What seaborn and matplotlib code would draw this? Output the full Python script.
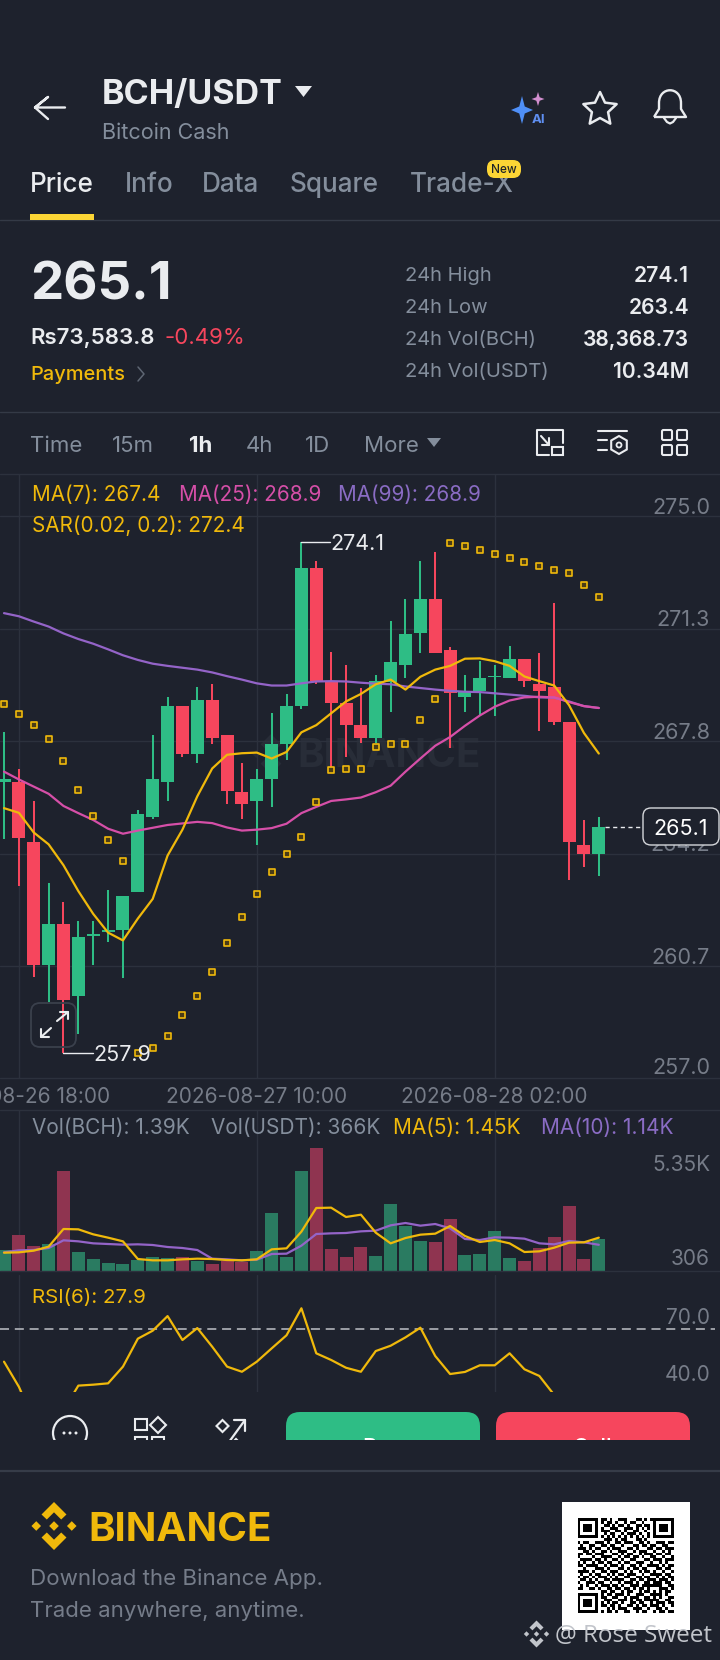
import numpy as np
import pandas as pd
import matplotlib
matplotlib.use('Agg')
import matplotlib.pyplot as plt
from matplotlib.patches import FancyBboxPatch, Polygon, Rectangle, Circle, PathPatch
from matplotlib.path import Path
import seaborn as sns

# Candles, oldest first
opens = [266.50, 266.48, 264.55, 260.63, 261.93, 259.62, 261.55, 261.67, 261.74, 262.97, 265.37,
         266.49, 268.91, 267.40, 269.11, 268.00, 266.17, 265.88, 266.59, 267.70, 268.91, 273.35,
         269.73, 269.02, 268.32, 267.90, 269.69, 270.24, 271.25, 272.34, 270.72, 269.21, 269.39,
         269.85, 269.83, 270.43, 269.62, 269.52, 268.41, 264.46, 264.18]
highs = [268.10, 266.89, 265.88, 263.25, 262.65, 262.03, 262.03, 263.04, 262.84, 265.58, 268.00,
         269.22, 268.91, 269.52, 269.63, 268.00, 267.10, 266.89, 268.71, 269.31, 274.18, 273.57,
         270.66, 270.24, 269.50, 269.92, 271.65, 272.35, 273.56, 273.86, 270.82, 269.93, 270.38,
         270.24, 270.85, 270.43, 270.63, 272.24, 268.41, 265.27, 265.37]
lows = [264.66, 263.15, 260.23, 259.45, 257.80, 258.40, 260.63, 261.35, 260.21, 262.97, 265.30,
        265.88, 267.30, 267.10, 267.70, 265.78, 265.30, 264.48, 265.68, 267.20, 268.82, 269.63,
        266.78, 267.29, 267.74, 267.74, 268.73, 269.82, 270.62, 270.63, 267.58, 268.72, 268.59,
        268.59, 269.83, 269.53, 268.11, 268.31, 263.35, 263.75, 263.46]
closes = [266.58, 264.68, 260.63, 261.93, 259.51, 261.51, 261.60, 261.74, 262.84, 265.46, 266.58,
          268.91, 267.40, 269.11, 267.91, 266.19, 265.78, 266.58, 267.70, 268.91, 273.35, 269.73,
          269.02, 268.32, 267.90, 269.73, 270.33, 271.23, 272.34, 270.63, 269.33, 269.39, 269.81,
          269.89, 270.43, 269.73, 269.42, 268.41, 264.58, 264.18, 265.06]

ma7 = [265.65, 265.50, 264.87, 264.49, 263.82, 262.99, 262.26, 261.66, 261.41, 262.11, 262.74,
       264.13, 264.96, 266.03, 266.92, 267.36, 267.41, 267.43, 267.24, 267.45, 268.08, 268.31,
       268.69, 269.07, 269.31, 269.62, 269.77, 269.45, 269.86, 270.09, 270.21, 270.44, 270.45,
       270.36, 270.21, 269.87, 269.72, 269.58, 268.95, 268.06, 267.40]
ma25 = [266.82, 266.57, 266.34, 266.11, 265.72, 265.49, 265.27, 264.99, 264.83, 264.93, 265.02,
        265.11, 265.16, 265.21, 265.17, 265.03, 264.93, 264.96, 265.01, 265.15, 265.49, 265.69,
        265.88, 265.93, 265.99, 266.16, 266.37, 266.82, 267.24, 267.65, 267.93, 268.29, 268.62,
        268.90, 269.10, 269.20, 269.22, 269.20, 269.05, 268.92, 268.86]
ma99 = [271.90, 271.80, 271.63, 271.47, 271.25, 271.07, 270.92, 270.74, 270.55, 270.40, 270.28,
        270.21, 270.15, 270.09, 270.00, 269.88, 269.77, 269.65, 269.58, 269.58, 269.65, 269.71,
        269.72, 269.71, 269.67, 269.64, 269.62, 269.55, 269.50, 269.45, 269.41, 269.38, 269.37,
        269.33, 269.29, 269.25, 269.20, 269.19, 269.07, 268.92, 268.86]
sar = [269.00, 268.67, 268.33, 267.86, 267.17, 266.22, 265.39, 264.63, 263.94, 257.80, 257.95,
       258.36, 259.02, 259.62, 260.41, 261.33, 262.16, 262.91, 263.59, 264.19, 264.73, 265.86,
       266.86, 266.89, 266.89, 267.60, 267.70, 267.70, 268.48, 269.16, 274.16, 274.04, 273.91,
       273.78, 273.66, 273.54, 273.42, 273.29, 273.18, 272.80, 272.42]

volumes = [913, 1552, 1102, 1160, 4365, 812, 522, 362, 319, 464, 609, 551, 595, 435, 306, 450, 392,
           870, 2538, 609, 4336, 5350, 942, 609, 1044, 638, 2915, 1972, 1305, 1262, 2277, 711, 725,
           1755, 551, 420, 986, 1465, 2828, 537, 1390]
vol_ma5 = [797, 812, 885, 1058, 1827, 1812, 1595, 1450, 1290, 522, 464, 464, 507, 536, 522, 478, 464,
           507, 942, 986, 1711, 2740, 2755, 2349, 2450, 1667, 1203, 1435, 1580, 1624, 1957, 1522,
           1261, 1348, 1203, 826, 855, 1015, 1232, 1247, 1450]
vol_ma10 = [812, 899, 913, 1000, 1334, 1290, 1203, 1174, 1145, 1160, 1131, 1044, 1000, 913, 536, 507,
            464, 493, 739, 754, 1102, 1609, 1638, 1653, 1725, 1754, 1986, 2088, 1972, 2044, 1856,
            1392, 1348, 1464, 1450, 1406, 1203, 1160, 1305, 1247, 1140]
rsi = [52.8, 39.6, 22.1, 24.7, 27.2, 40.2, 40.7, 41.4, 50.2, 64.9, 69.1, 76.8, 64.2, 70.5, 60.7, 50.2,
       47.5, 52.8, 59.8, 66.7, 80.9, 57.2, 53.7, 49.6, 47.5, 58.4, 61.2, 65.6, 70.7, 55.8, 46.3, 47.4,
       50.9, 50.9, 57.2, 48.8, 45.3, 35.3, 17.0, 18.0, 27.9]

price_ticks = [275.0, 271.3, 267.8, 264.2, 260.7, 257.0]
grid_prices = [275.0, 271.39, 267.79, 264.19, 260.59]
date_labels = ['2026-08-26 18:00', '2026-08-27 10:00', '2026-08-28 02:00']
date_idx = [1, 17, 33]

tabs = ['Price', 'Info', 'Data', 'Square', 'Trade-X']
tab_x = [30, 125, 202, 290, 410]
frames = ['Time', '15m', '1h', '4h', '1D', 'More']
frame_x = [30, 112, 189, 246, 305, 364]
stat_labels = ['24h High', '24h Low', '24h Vol(BCH)', '24h Vol(USDT)']
stat_values = ['274.1', '263.4', '38,368.73', '10.34M']
stat_y = [274, 306, 338, 370]

qr_rows = [
    '1111111' + '0110100111000110101' + '1111111',
    '1000001' + '0101101001011001000' + '1000001',
    '1011101' + '0011010110100110110' + '1011101',
    '1011101' + '0100111001110101010' + '1011101',
    '1011101' + '0111001101001100100' + '1011101',
    '1000001' + '0010110010111010010' + '1000001',
    '1111111' + '0101010101010101010' + '1111111',
    '0000000' + '0011101011000110100' + '0000000',
    '101100111010011011100110100111011',
    '010011001101100100011011011001100',
    '111010110010111001101000110110111',
    '001101001101001110010111001001010',
    '110110111000110101100101110110110',
    '100001001111001011011010011001001',
    '011110110100110100110001101110111',
    '101001011011001011001110010010100',
    '110111100101110100110100111101011',
    '001000111010001101011011000110110',
    '111101001101110010100101101001001',
    '010010110010101101110010011110110',
    '101101011101010011001101100101011',
    '011010100110111100110110111011101',
    '100111011001001011101001101110110',
    '010100101110110100111011111110011',
    '110011010011011011010110100011101',
    '0000000' + '0110110010110010110' + '1010110',
    '1111111' + '0101101110100111001' + '1110100',
    '1000001' + '0110011001011100110' + '1010011',
    '1011101' + '0011100111010110111' + '1100110',
    '1011101' + '0101011010011011001' + '0111011',
    '1011101' + '0110110100110101101' + '1101001',
    '1000001' + '0001010111001110010' + '0110100',
    '1111111' + '0101101001100101100' + '1011011',
]

BG = '#1e222d'
GRID = '#2c313d'
GREEN = '#2ebd85'
RED = '#f6465d'
YELLOW = '#f0b90b'
PINK = '#d64fa8'
PURPLE = '#9464c8'
GREY = '#848e9c'
AXIS_GREY = '#767c88'
WHITE = '#eaecef'

sns.set_theme(style='dark', rc={'axes.facecolor': 'none', 'figure.facecolor': BG,
                                'axes.edgecolor': 'none'})
plt.rcParams['font.family'] = ['Inter', 'DejaVu Sans']

fig = plt.figure(figsize=(7.2, 16.6), dpi=100)
W, H = 720.0, 1660.0


def axes_px(x0, y0, x1, y1, z=1):
    # axes from pixel box, y measured from the top of the picture
    return fig.add_axes([x0 / W, 1 - y1 / H, (x1 - x0) / W, (y1 - y0) / H], zorder=z)


def pixel_layer(z):
    layer = axes_px(0, 0, 720, 1660, z=z)
    layer.set_xlim(0, W)
    layer.set_ylim(H, 0)
    layer.axis('off')
    return layer


def txt(x, y, s, size, color=WHITE, ha='left', weight='normal', **kw):
    # y is the visual middle of the capitals
    return ui.text(x, y + 0.5 * size, s, fontsize=size, color=color, ha=ha, va='baseline',
                   fontweight=weight, **kw)


def stroke(xs, ys, color=WHITE, lw=1.6, z=3):
    ui.plot(xs, ys, color=color, lw=lw, solid_capstyle='round', solid_joinstyle='round', zorder=z)


def diamond(cx, cy, r, **kw):
    ui.add_patch(Polygon([(cx, cy - r), (cx + r, cy), (cx, cy + r), (cx - r, cy)], closed=True, **kw))


def binance_logo(cx, cy, r, color):
    diamond(cx, cy, 0.2 * r, fc=color, ec='none')
    diamond(cx - 0.74 * r, cy, 0.2 * r, fc=color, ec='none')
    diamond(cx + 0.74 * r, cy, 0.2 * r, fc=color, ec='none')
    for sgn in (-1, 1):
        pts = [(0, 1), (0.52, 0.48), (0.3, 0.27), (0, 0.57), (-0.3, 0.27), (-0.52, 0.48)]
        ui.add_patch(Polygon([(cx + a * r, cy + sgn * b * r) for a, b in pts], closed=True, fc=color, ec='none'))


def sparkle(cx, cy, rx, ry, color):
    k = 0.25
    ui.add_patch(Polygon([(cx, cy - ry), (cx + k * rx, cy - k * ry), (cx + rx, cy), (cx + k * rx, cy + k * ry),
                          (cx, cy + ry), (cx - k * rx, cy + k * ry), (cx - rx, cy), (cx - k * rx, cy - k * ry)],
                         closed=True, fc=color, ec='none'))


def round_box(x0, y0, x1, y1, r, **kw):
    ui.add_patch(FancyBboxPatch((x0, y0), x1 - x0, y1 - y0, boxstyle='round,pad=0,rounding_size=%g' % r, **kw))


idx = np.arange(len(closes))
x_left = -4 / 14.87
x_right = 716 / 14.87

# watermark sits under the candles
ui = pixel_layer(0)
ui.text(389, 756, 'BINANCE', fontsize=29, color='#282d38', ha='center', va='center', fontweight='bold')
binance_logo(271, 754, 20, '#282d38')

# main price panel
ax = axes_px(0, 474, 720, 1078)
for p in grid_prices:
    ax.axhline(p, color=GRID, lw=1, zorder=0)
for d in date_idx:
    ax.axvline(d, color=GRID, lw=1, zorder=0)

candles = pd.DataFrame({'idx': idx, 'open': opens, 'high': highs, 'low': lows, 'close': closes})
candles['up'] = candles['close'] >= candles['open']
candles['color'] = np.where(candles['up'], GREEN, RED)
ax.vlines(candles['idx'], candles['low'], candles['high'], colors=candles['color'], lw=1.45, zorder=2)
ax.bar(candles['idx'], (candles['close'] - candles['open']).abs(),
       bottom=candles[['open', 'close']].min(axis=1), width=0.875, color=candles['color'],
       edgecolor='none', linewidth=0, zorder=3)

sns.lineplot(x=idx, y=ma99, ax=ax, color=PURPLE, lw=1.6, estimator=None, zorder=4)
sns.lineplot(x=idx, y=ma25, ax=ax, color=PINK, lw=1.6, estimator=None, zorder=4)
sns.lineplot(x=idx, y=ma7, ax=ax, color=YELLOW, lw=1.6, estimator=None, zorder=5)
sns.scatterplot(x=idx, y=sar, ax=ax, marker='s', s=14, facecolor='#4a3c16', edgecolor=YELLOW,
                linewidth=1.2, zorder=6)
ax.set_xlim(x_left, x_right)
ax.set_ylim(257.0, 276.36)
ax.set(xticks=[], yticks=[], xlabel='', ylabel='')

# volume panel
ax_vol = axes_px(0, 1110, 720, 1271)
for d in date_idx:
    ax_vol.axvline(d, color=GRID, lw=1, zorder=0)
vol_df = pd.DataFrame({'idx': idx, 'vol': volumes, 'side': np.where(candles['up'], 'up', 'down')})
sns.barplot(data=vol_df, x='idx', y='vol', hue='side', native_scale=True, dodge=False, width=0.875,
            palette={'up': '#2a7b61', 'down': '#8f3450'}, saturation=1, legend=False, ax=ax_vol,
            edgecolor='none', linewidth=0, zorder=2)
sns.lineplot(x=idx, y=vol_ma10, ax=ax_vol, color=PURPLE, lw=1.6, estimator=None, zorder=4)
sns.lineplot(x=idx, y=vol_ma5, ax=ax_vol, color=YELLOW, lw=1.6, estimator=None, zorder=5)
ax_vol.set_xlim(x_left, x_right)
ax_vol.set_ylim(0, 5350 * 161 / 123)
ax_vol.set(xticks=[], yticks=[], xlabel='', ylabel='')

# rsi panel
ax_rsi = axes_px(0, 1275, 720, 1392)
for d in date_idx:
    ax_rsi.axvline(d, color=GRID, lw=1, zorder=0)
ax_rsi.plot([x_left, 47.8], [70, 70], color='#a6a9af', lw=1.3, dashes=(5, 3.2), zorder=1)
sns.lineplot(x=idx, y=rsi, ax=ax_rsi, color=YELLOW, lw=1.6, estimator=None, zorder=3)
ax_rsi.set_xlim(x_left, x_right)
ax_rsi.set_ylim(70 - 63 / 1.9, 70 + 54 / 1.9)
ax_rsi.set(xticks=[], yticks=[], xlabel='', ylabel='')

# everything else is screen furniture on a full pixel layer
ui = pixel_layer(5)

# header
stroke([65, 35, 48, 35, 48], [107.5, 107.5, 97, 107.5, 119], lw=1.7)
txt(102, 92, 'BCH/USDT', 24.5, weight='bold')
ui.add_patch(Polygon([(295, 86), (312, 86), (303.5, 97)], closed=True, fc=WHITE, ec='none'))
txt(102, 131, 'Bitcoin Cash', 15.5, GREY)
sparkle(522, 110, 11, 14, '#4f8ff7')
sparkle(538, 99, 6.5, 7, '#d38fd0')
txt(539, 118, 'AI', 9.5, '#5f8ff2', ha='center', weight='bold')
star_a = np.deg2rad(np.arange(10) * 36 - 90)
star_r = np.where(np.arange(10) % 2 == 0, 17.5, 8.5)
ui.add_patch(Polygon(np.c_[600 + star_r * np.cos(star_a), 109.5 + star_r * np.sin(star_a)], closed=True,
                     fc='none', ec=WHITE, lw=1.8, joinstyle='round'))
bell = Path([(654, 117), (659, 109), (659, 103), (659, 86), (681, 86), (681, 103), (681, 109), (686, 117), (654, 117)],
            [Path.MOVETO, Path.LINETO, Path.LINETO, Path.CURVE4, Path.CURVE4, Path.CURVE4, Path.LINETO, Path.LINETO,
             Path.LINETO])
ui.add_patch(PathPatch(bell, fc='none', ec=WHITE, lw=1.7, joinstyle='round'))
stroke([664, 667, 670, 673, 676], [118, 122, 123.5, 122, 118], lw=1.6)

for name, x in zip(tabs, tab_x):
    txt(x, 183, name, 18.8, WHITE if name == 'Price' else GREY, weight='medium')
ui.add_patch(Rectangle((30, 214), 64, 6, fc='#fcd535', ec='none', zorder=3))
ui.axhline(220, color='#343a46', lw=1)
round_box(487, 160, 521, 178, 8, fc='#fcd535', ec='none', zorder=3)
txt(504, 169, 'New', 8.5, '#1e2329', ha='center', weight='medium', zorder=4)

txt(30, 281, '265.1', 38, weight='bold')
txt(30, 336, 'Rs73,583.8', 16, weight='semibold')
txt(164, 336, '-0.49%', 16, RED)
txt(30, 373, 'Payments', 14.4, YELLOW, weight='medium')
stroke([138, 144, 138], [367, 374, 381], '#5e6673', lw=1.1)
for lab, val, y in zip(stat_labels, stat_values, stat_y):
    txt(405, y, lab, 14.5, GREY)
    txt(689, y, val, 15.2, weight='semibold', ha='right')
ui.axhline(412, color='#343a46', lw=1)

for name, x in zip(frames, frame_x):
    txt(x, 444, name, 16, WHITE if name == '1h' else GREY, weight='bold' if name == '1h' else 'normal')
ui.add_patch(Polygon([(427, 438), (441, 438), (434, 447)], closed=True, fc=GREY, ec='none'))

# toolbar icons
stroke([563, 563, 537, 537, 549], [443, 430, 430, 455, 455], lw=1.5)
ui.add_patch(Rectangle((552, 447), 11, 8, fc='none', ec=WHITE, lw=1.5))
stroke([541, 549], [436, 445], lw=1.5)
stroke([542, 549, 549], [445, 445, 438], lw=1.5)
stroke([598, 627], [431, 431], lw=1.5)
stroke([598, 607], [440, 440], lw=1.5)
stroke([598, 607], [450, 450], lw=1.5)
hex_a = np.deg2rad(np.arange(6) * 60 - 90)
ui.add_patch(Polygon(np.c_[619 + 9 * np.cos(hex_a), 445 + 9 * np.sin(hex_a)], closed=True, fc='none', ec=WHITE, lw=1.5))
ui.add_patch(Circle((619, 445), 2.5, fc='none', ec=WHITE, lw=1.3))
for bx in (662, 677):
    for by in (430, 445):
        round_box(bx, by, bx + 10, by + 10, 1.5, fc='none', ec=WHITE, lw=1.5)

# panel rules
ui.plot([0, 720], [474, 474], color=GRID, lw=1, zorder=0)
ui.plot([0, 720], [1078, 1078], color=GRID, lw=1, zorder=0)
ui.plot([0, 720], [1110, 1110], color=GRID, lw=1, zorder=0)
ui.plot([0, 720], [1271, 1271], color=GRID, lw=1, zorder=0)

# chart legends
txt(32, 494, 'MA(7): 267.4', 14.9, YELLOW)
txt(179, 494, 'MA(25): 268.9', 14.9, PINK)
txt(338, 494, 'MA(99): 268.9', 14.9, '#8a6cc4')
txt(32, 525, 'SAR(0.02, 0.2): 272.4', 14.9, YELLOW)
txt(32, 1126, 'Vol(BCH): 1.39K', 15, GREY)
txt(211, 1126, 'Vol(USDT): 366K', 15, GREY)
txt(393, 1126, 'MA(5): 1.45K', 15, YELLOW)
txt(541, 1126, 'MA(10): 1.14K', 15, '#8a6cc4')
txt(32, 1296, 'RSI(6): 27.9', 14.8, YELLOW)

# right hand scales
for p, y in zip(price_ticks, [506, 618, 731, 843, 956, 1066]):
    txt(710, y, '%.1f' % p, 15.5, AXIS_GREY, ha='right')
txt(710, 1163, '5.35K', 15, AXIS_GREY, ha='right')
txt(710, 1257, '306', 15, AXIS_GREY, ha='right')
txt(710, 1316, '70.0', 15, AXIS_GREY, ha='right')
txt(710, 1373, '40.0', 15, AXIS_GREY, ha='right')

for lab, d in zip(date_labels, date_idx):
    txt(4 + 14.87 * d, 1095, lab, 15, AXIS_GREY, ha='center')

# high, low and last price tags
stroke([301, 330], [542, 542], lw=1, z=3)
txt(330, 542, '274.1', 15.5)
stroke([63, 93], [1053, 1053], lw=1, z=3)
txt(93, 1053, '257.9', 15.5)
ui.plot([605, 643], [827, 827], color=WHITE, lw=1, dashes=(3, 2.5))
round_box(643, 808, 719, 845, 8, fc=BG, ec='#d5d7db', lw=1, zorder=3)
txt(681, 827, '265.1', 15.5, 'white', ha='center', zorder=4)

# expand button
round_box(31, 1003, 76, 1047, 9, fc='none', ec='#3a404c', lw=1.3)
stroke([57, 68], [1021, 1012], lw=1.5)
stroke([60, 68, 68], [1012, 1012, 1019], lw=1.5)
stroke([41, 51], [1037, 1028], lw=1.5)
stroke([41, 41, 49], [1029, 1037, 1037], lw=1.5)

# bottom bar, cut off by the sheet below it
ui.add_patch(Circle((70, 1433), 17, fc='none', ec=WHITE, lw=1.6))
for dx in (-6, 0, 6):
    ui.add_patch(Circle((70 + dx, 1433), 1.5, fc=WHITE, ec='none'))
ui.add_patch(Rectangle((135, 1419), 12, 11, fc='none', ec=WHITE, lw=1.5))
diamond(158, 1425, 8, fc='none', ec=WHITE, lw=1.5)
ui.add_patch(Rectangle((135, 1437), 12, 10, fc='none', ec=WHITE, lw=1.5))
ui.add_patch(Rectangle((152, 1437), 12, 10, fc='none', ec=WHITE, lw=1.5))
diamond(222.5, 1426, 6, fc='none', ec=WHITE, lw=1.5)
stroke([229, 245], [1442, 1420], lw=1.6)
stroke([234, 245, 245], [1420, 1420, 1431], lw=1.6)
diamond(236, 1444, 5, fc='none', ec=WHITE, lw=1.5)
round_box(286, 1412, 480, 1480, 14, fc=GREEN, ec='none', zorder=2)
round_box(496, 1412, 690, 1480, 14, fc=RED, ec='none', zorder=2)
txt(383, 1446, 'Buy', 16, 'white', ha='center', weight='medium', zorder=3)
txt(593, 1446, 'Sell', 16, 'white', ha='center', weight='medium', zorder=3)
ui.add_patch(Rectangle((0, 1440), 720, 220, fc=BG, ec='none', zorder=6))
ui.plot([0, 720], [1471, 1471], color='#363c48', lw=1.6, zorder=7)

# footer
binance_logo(54, 1526, 24, YELLOW)
for a in ui.patches[-5:]:
    a.set_zorder(7)
txt(88, 1526, 'BINANCE', 29, YELLOW, weight='bold', zorder=7)
txt(30, 1577, 'Download the Binance App.', 16.1, '#757c89', zorder=7)
txt(30, 1609, 'Trade anywhere, anytime.', 16, '#757c89', zorder=7)
ui.add_patch(Rectangle((562, 1502), 128, 128, fc='white', ec='none', zorder=7))

ax_qr = axes_px(577.5, 1518, 673.5, 1613, z=6)
qr = np.array([[int(c) for c in row] for row in qr_rows])
sns.heatmap(qr, cmap=['white', 'black'], cbar=False, xticklabels=False, yticklabels=False, ax=ax_qr)

ui = pixel_layer(7)
binance_logo(536.5, 1634, 13.5, '#c2c5cb')
ui.text(555, 1642, '@ Rose Sweet', fontsize=17.5, color='#c2c5cb', family='Open Sans', ha='left', va='baseline')

fig.savefig('out.png', dpi=100, facecolor=BG)
